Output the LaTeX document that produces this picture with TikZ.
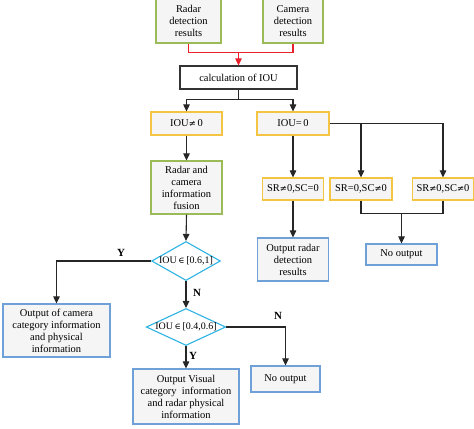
\documentclass[tikz,border=0pt]{standalone}
\usepackage{fontspec}
\setmainfont{Liberation Serif}
\newfontfamily\symf{DejaVu Serif}
\newcommand{\nq}{{\symf\fontsize{8.5}{12}\selectfont ≠}}
\newcommand{\inn}{{\symf\fontsize{8.5}{12}\selectfont ∈}}
\usetikzlibrary{shapes.geometric,arrows.meta}
\definecolor{grn}{HTML}{9BBB59}
\definecolor{ylw}{HTML}{F4C542}
\definecolor{blu}{HTML}{6FA0D8}
\definecolor{cyn}{HTML}{2DB3E3}
\definecolor{rd}{HTML}{E8202A}
\begin{document}
\begin{tikzpicture}[x=1bp,y=-1bp,
  every node/.style={font=\fontsize{10.5}{12}\selectfont},
  wh/.style 2 args={minimum width=#1bp,minimum height=#2bp},
  box/.style={draw,line width=1.2bp,fill=black!4,align=center,inner sep=0pt},
  gbox/.style={box,draw=grn},
  ybox/.style={box,draw=ylw},
  bbox/.style={box,draw=blu},
  kbox/.style={box,draw=black!80,fill=white},
  dia/.style={diamond,draw=cyn,line width=1.1bp,fill=white,inner sep=0pt,aspect=#1,font=\fontsize{10}{12}\selectfont},
  ln/.style={draw=black!85,line width=1.1bp},
  arr/.style={ln,-{Triangle[width=6.5bp,length=7bp]}},
  rarr/.style={draw=rd,line width=1.1bp,-{Triangle[width=6.5bp,length=7bp]}},
  rln/.style={draw=rd,line width=1.1bp},
  lbl/.style={font=\fontsize{11}{12}\selectfont\bfseries}
]
\useasboundingbox (0,0) rectangle (474,428);
\node[gbox,wh={65}{44}] (radar) at (188.5,21) {Radar\\detection\\results};
\node[gbox,wh={60}{44}] (camera) at (293,21) {Camera\\detection\\results};
\node[kbox,wh={117}{23}] (calc) at (238.5,77.5) {calculation of IOU};
\node[ybox,wh={71}{23}] (ioun) at (186.5,123.5) {IOU\nq\,0};
\node[ybox,wh={72}{23}] (iouz) at (293,123.5) {IOU=\,0};
\node[gbox,wh={71}{53}] (fusion) at (186.5,187.5) {Radar and\\camera\\information\\fusion};
\node[ybox,wh={61}{22}] (sr1) at (293,189) {SR\nq0,SC=0};
\node[ybox,wh={62}{22}] (sr2) at (361,189) {SR=0,SC\nq0};
\node[ybox,wh={61}{22}] (sr3) at (443,189) {SR\nq0,SC\nq0};
\node[bbox,wh={71}{43}] (outradar) at (293,259.5) {Output radar\\detection\\results};
\node[bbox,wh={71}{21}] (noout1) at (401.5,254.5) {No output};
\node[dia=1.76] (d1) at (186,261) {IOU\,\inn\,[0.6,1]};
\node[dia=2.15] (d2) at (186,327) {IOU\,\inn\,[0.4,0.6]};
\node[bbox,wh={107}{53}] (outcam) at (56.5,330.5) {Output of camera\\category information\\and physical\\information};
\node[bbox,wh={106}{55}] (outvis) at (186,396.5) {Output Visual\\category~ information\\and radar physical\\information};
\node[bbox,wh={69}{26}] (noout2) at (285.5,379) {No output};
% red merge
\path (calc.north) ++(0,-13) coordinate (rj);
\draw[rln] (radar.south) |- (rj) -| (camera.south);
\draw[rarr] (rj) -- (calc.north);
% split
\path (calc.south) ++(0,10) coordinate (sj);
\draw[ln] (calc.south) -- (sj);
\draw[arr] (sj) -| (ioun.north);
\draw[arr] (sj) -| (iouz.north);
% IOU=0 branches
\draw[arr] (iouz.east) -| (sr3.north);
\draw[arr] (iouz.east -| sr2.north) -- (sr2.north);
\draw[arr] (iouz.south) -- (sr1.north);
\draw[arr] (sr1.south) -- (outradar.north);
\path (sr2.south) ++(0,13) coordinate (nj);
\draw[ln] (sr2.south) |- (sr3.south |- nj) -- (sr3.south);
\draw[arr] (noout1.north |- nj) -- (noout1.north);
% left branch
\draw[arr] (ioun.south) -- (fusion.north);
\draw[arr] (fusion.south) -- (d1.north);
\draw[arr] (d1.west) -| (outcam.north);
\draw[arr] (d1.south) -- (d2.north);
\draw[arr] (d2.east) -| (noout2.north);
\draw[arr] (d2.south) -- (outvis.north);
\node[lbl] (ly1) at (121,253) {Y};
\node[lbl] (ln1) at (197,293) {N};
\node[lbl] (ln2) at (278,316) {N};
\node[lbl] (ly2) at (193,356) {Y};
\end{tikzpicture}
\end{document}
